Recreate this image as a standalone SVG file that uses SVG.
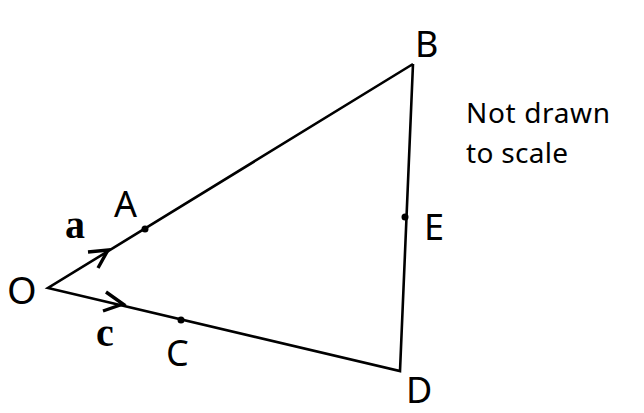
<svg xmlns="http://www.w3.org/2000/svg" width="644" height="413" viewBox="0 0 644 413">
<style>
.l{fill:none;stroke:#000;stroke-width:2.6;stroke-linejoin:miter}
.h{fill:none;stroke:#000;stroke-width:3.4}
.t{font-family:"Noto Sans","Open Sans",sans-serif;font-size:36px;fill:#000}
.b{font-family:"Liberation Serif",serif;font-size:40px;font-weight:bold;fill:#000}
.n{font-family:"Noto Sans","Open Sans",sans-serif;font-size:28px;fill:#000}
</style>
<rect width="644" height="413" fill="#fff"/>
<g id="connectors">
<polyline class="l" points="413,64 48,288 400,371 413,64"/>
<polyline class="h" points="88,252 108,250 98,268"/>
<polyline class="h" points="106,292 123,304 103,311"/>
</g>
<g id="O"><text class="t" x="7" y="304" style="font-size:38px">O</text></g>
<g id="A"><circle cx="145" cy="229" r="3.5"/><text class="t" x="114" y="217">A</text></g>
<g id="B"><text class="t" x="415" y="57">B</text></g>
<g id="C"><circle cx="181" cy="320" r="3.5"/><text class="t" x="166" y="366">C</text></g>
<g id="D"><text class="t" x="406" y="403">D</text></g>
<g id="E"><circle cx="405" cy="217" r="3.5"/><text class="t" x="424" y="240">E</text></g>
<g id="a"><text class="b" x="65" y="238">a</text></g>
<g id="c"><text class="b" x="96" y="346">c</text></g>
<g id="note"><text class="n" x="466" y="123" textLength="144">Not drawn</text><text class="n" x="466" y="163" textLength="102">to scale</text></g>
</svg>
